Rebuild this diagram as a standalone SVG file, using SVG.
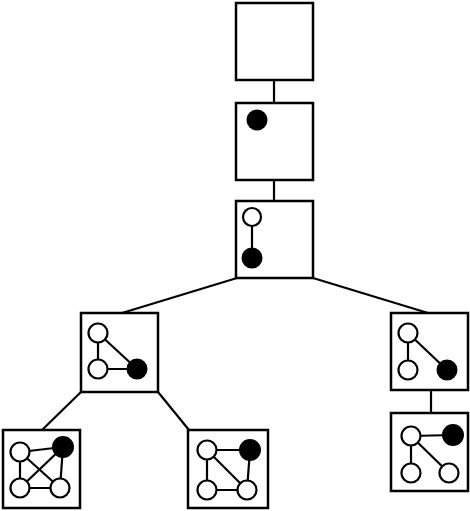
<svg xmlns="http://www.w3.org/2000/svg" width="470" height="511" viewBox="0 0 470 511">
<style>
.box{fill:#fff;stroke:#000;stroke-width:2.5}
.e{stroke:#000;stroke-width:2.2;fill:none}
.o{fill:#fff;stroke:#000;stroke-width:2.2}
.b{fill:#000;stroke:#000;stroke-width:2}
</style>
<rect width="470" height="511" fill="#fff"/>
<g id="connectors" class="e">
<line x1="274" y1="80" x2="274" y2="103"/>
<line x1="274" y1="180" x2="274" y2="201"/>
<line x1="237" y1="278" x2="122" y2="313"/>
<line x1="313" y1="278" x2="428" y2="313"/>
<line x1="81" y1="392" x2="42" y2="430"/>
<line x1="158" y1="392" x2="189" y2="430"/>
<line x1="431" y1="390" x2="431" y2="413"/>
</g>
<g id="n1"><rect class="box" x="236" y="3" width="77" height="77"/></g>
<g id="n2"><rect class="box" x="236" y="103" width="77" height="77"/><circle class="b" cx="257" cy="120" r="9.5"/></g>
<g id="n3"><rect class="box" x="236" y="201" width="77" height="77"/>
<line class="e" x1="252" y1="217" x2="252" y2="258"/>
<circle class="o" cx="252" cy="217" r="9"/><circle class="b" cx="252" cy="258" r="9.5"/></g>
<g id="n4"><rect class="box" x="81" y="313" width="77" height="79"/>
<line class="e" x1="98" y1="333" x2="98" y2="369"/><line class="e" x1="98" y1="333" x2="137" y2="369"/><line class="e" x1="98" y1="369" x2="137" y2="369"/>
<circle class="o" cx="98" cy="333" r="9.5"/><circle class="o" cx="98" cy="369" r="9.5"/><circle class="b" cx="137" cy="369" r="9.5"/></g>
<g id="n5"><rect class="box" x="391" y="313" width="77" height="77"/>
<line class="e" x1="408" y1="333" x2="408" y2="370"/><line class="e" x1="408" y1="333" x2="447" y2="370"/>
<circle class="o" cx="408" cy="333" r="9.5"/><circle class="o" cx="408" cy="370" r="9.5"/><circle class="b" cx="447" cy="370" r="9.5"/></g>
<g id="n6"><rect class="box" x="391" y="413" width="77" height="78"/>
<line class="e" x1="411" y1="436" x2="453" y2="435"/><line class="e" x1="411" y1="436" x2="411" y2="473"/><line class="e" x1="411" y1="436" x2="449" y2="473"/>
<circle class="o" cx="411" cy="436" r="9.5"/><circle class="b" cx="453" cy="435" r="10"/><circle class="o" cx="411" cy="473" r="9.5"/><circle class="o" cx="449" cy="473" r="9.5"/></g>
<g id="n7"><rect class="box" x="3" y="430" width="77" height="78"/>
<line class="e" x1="20" y1="452" x2="63" y2="447"/><line class="e" x1="20" y1="452" x2="20" y2="488"/><line class="e" x1="63" y1="447" x2="60" y2="488"/><line class="e" x1="20" y1="488" x2="60" y2="488"/><line class="e" x1="20" y1="452" x2="60" y2="488"/><line class="e" x1="63" y1="447" x2="20" y2="488"/>
<circle class="o" cx="20" cy="452" r="9.5"/><circle class="b" cx="63" cy="447" r="10"/><circle class="o" cx="20" cy="488" r="9.5"/><circle class="o" cx="60" cy="488" r="9.5"/></g>
<g id="n8"><rect class="box" x="188" y="430" width="80" height="78"/>
<line class="e" x1="207" y1="450" x2="250" y2="450"/><line class="e" x1="207" y1="450" x2="207" y2="490"/><line class="e" x1="207" y1="450" x2="247" y2="490"/><line class="e" x1="250" y1="450" x2="247" y2="490"/><line class="e" x1="207" y1="490" x2="247" y2="490"/>
<circle class="o" cx="207" cy="450" r="9.5"/><circle class="b" cx="250" cy="450" r="10"/><circle class="o" cx="207" cy="490" r="9.5"/><circle class="o" cx="247" cy="490" r="9.5"/></g>
</svg>
